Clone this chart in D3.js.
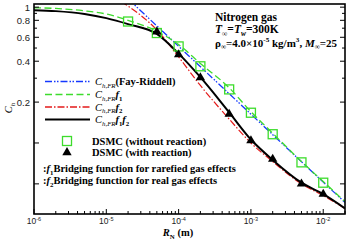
<!DOCTYPE html>
<html>
<head>
<meta charset="utf-8">
<script src="https://cdn.jsdelivr.net/npm/d3@7"></script>
<style>
  html, body { margin: 0; padding: 0; background: #fff; }
  svg { display: block; }
</style>
</head>
<body>
<div id="chart"></div>
<script>
// --- data ---
var rN = [1e-6, 2e-6, 5e-6, 1e-5, 2e-5, 5e-5, 1e-4, 2e-4, 5e-4, 1e-3, 2e-3, 5e-3, 1e-2, 2e-2];
var chF1F2 = [0.95, 0.935, 0.89, 0.83, 0.75, 0.635, 0.455, 0.305, 0.168, 0.106, 0.075, 0.051, 0.042, 0.033];
var chF1 = [0.99, 0.978, 0.94, 0.89, 0.80, 0.665, 0.53, 0.385, 0.255, 0.17, 0.118, 0.073, 0.052, 0.037];

var rFR = [2e-5, 1e-4, 1e-3, 1e-2, 2e-2];
var chFR = [1.15, 0.515, 0.163, 0.0515, 0.0365];

var rF2 = [1.6e-5, 3e-5, 5e-5, 1e-4, 2e-4, 5e-4, 1e-3, 2e-3, 5e-3, 1e-2, 2e-2];
var chF2 = [1.1, 0.87, 0.68, 0.43, 0.265, 0.15, 0.10, 0.073, 0.050, 0.041, 0.033];

var rNoReact = [2e-5, 5e-5, 1e-4, 2e-4, 5e-4, 1e-3, 2e-3, 5e-3, 1e-2];
var dsmcNoReact = [0.784, 0.645, 0.514, 0.367, 0.248, 0.167, 0.116, 0.072, 0.051];
var rReact = [5e-5, 1e-4, 2e-4, 5e-4, 1e-3, 2e-3, 5e-3, 1e-2];
var dsmcReact = [0.659, 0.447, 0.303, 0.163, 0.104, 0.076, 0.050, 0.042];

var xMajor = [1e-6, 1e-5, 1e-4, 1e-3, 1e-2];
var xLabels = ['-6', '-5', '-4', '-3', '-2'];
var yMajor = [1, 0.8, 0.6, 0.4, 0.2, 0.1, 0.05];
var yLabels = ['1', '0.8', '0.6', '0.4', '0.2', '', ''];
var yMinor = [0.9, 0.7, 0.5, 0.3];

var W = 347, H = 240;
var x = d3.scaleLog().domain([1e-6, 2e-2]).range([34, 345]);
var y = d3.scaleLog().domain([0.03, 1.055]).range([214, 4]);

var svg = d3.select('#chart').append('svg').attr('width', W).attr('height', H)
  .attr('font-family', '"Liberation Serif", "Times New Roman", serif');

svg.append('clipPath').attr('id', 'clip').append('rect')
  .attr('x', x.range()[0]).attr('y', y.range()[1])
  .attr('width', x.range()[1] - x.range()[0]).attr('height', y.range()[0] - y.range()[1]);

function rich(parent, px, py, segs, size, opts) {
  opts = opts || {};
  var t = parent.append('text').attr('x', px).attr('y', py).attr('font-size', size)
    .attr('font-weight', opts.weight || 'bold').attr('fill', '#000');
  if (opts.anchor) t.attr('text-anchor', opts.anchor);
  if (opts.transform) t.attr('transform', opts.transform);
  var shift = 0;
  segs.forEach(function (s) {
    var target = s.sub ? size * 0.25 : s.sup ? -size * 0.4 : 0;
    var ts = t.append('tspan').text(s.t).attr('dy', target - shift);
    shift = target;
    if (s.sub || s.sup) ts.attr('font-size', size * 0.65);
    if (s.i) ts.attr('font-style', 'italic');
    if (s.n) ts.attr('font-weight', 'normal');
    if (s.sans) ts.attr('font-family', '"Liberation Sans", Arial, sans-serif');
  });
  return t;
}

var plot = svg.append('g').attr('clip-path', 'url(#clip)');

var line = d3.line()
  .x(function (d) { return x(d[0]); })
  .y(function (d) { return y(d[1]); })
  .curve(d3.curveMonotoneX);

var series = [
  { r: rFR, v: chFR, color: '#1438ff', dash: '7,2,1.5,1.5,1.5,2', width: 1.3 },
  { r: rN, v: chF1, color: '#3ddc2c', dash: '7,3.5', width: 1.3 },
  { r: rF2, v: chF2, color: '#e41a1a', dash: '7,2,1.5,2', width: 1.2 },
  { r: rN, v: chF1F2, color: '#000', dash: null, width: 2 }
];

series.forEach(function (s) {
  plot.append('path').datum(d3.zip(s.r, s.v))
    .attr('fill', 'none').attr('stroke', s.color).attr('stroke-width', s.width)
    .attr('stroke-dasharray', s.dash).attr('d', line);
});

// DSMC markers
plot.selectAll('rect.sq').data(d3.zip(rNoReact, dsmcNoReact)).enter().append('rect')
  .attr('class', 'sq')
  .attr('x', function (d) { return x(d[0]) - 4.5; })
  .attr('y', function (d) { return y(d[1]) - 4.5; })
  .attr('width', 9).attr('height', 9)
  .attr('fill', 'none').attr('stroke', '#3ddc2c').attr('stroke-width', 1.3);

var tri = d3.symbol().type(d3.symbolTriangle).size(38);
plot.selectAll('path.tri').data(d3.zip(rReact, dsmcReact)).enter().append('path')
  .attr('class', 'tri')
  .attr('transform', function (d) { return 'translate(' + x(d[0]) + ',' + y(d[1]) + ')'; })
  .attr('d', tri).attr('fill', '#000');

// Axes frame and ticks (inward)
var axes = svg.append('g');
var x0 = x.range()[0], x1 = x.range()[1], y0 = y.range()[0], y1 = y.range()[1];
axes.append('rect').attr('x', x0).attr('y', y1).attr('width', x1 - x0).attr('height', y0 - y1)
  .attr('fill', 'none').attr('stroke', '#000').attr('stroke-width', 1.6);

var xMinor = [];
xMajor.forEach(function (m) { for (var k = 2; k <= 9; k++) if (m * k <= 2e-2) xMinor.push(m * k); });

axes.selectAll('line.xt').data(xMajor.concat(xMinor)).enter().append('line')
  .attr('x1', function (d) { return x(d); }).attr('x2', function (d) { return x(d); })
  .attr('y1', y0).attr('y2', function (d) { return y0 - (xMajor.indexOf(d) >= 0 ? 5 : 3); })
  .attr('stroke', '#000').attr('stroke-width', 1);

var yTicks = yMajor.map(function (v) { return { v: v, len: 5 }; })
  .concat(yMinor.map(function (v) { return { v: v, len: 3 }; }));
axes.selectAll('line.yl').data(yTicks).enter().append('line')
  .attr('x1', x0).attr('x2', function (d) { return x0 + d.len; })
  .attr('y1', function (d) { return y(d.v); }).attr('y2', function (d) { return y(d.v); })
  .attr('stroke', '#000').attr('stroke-width', 1);
axes.selectAll('line.yr').data(yTicks).enter().append('line')
  .attr('x1', x1).attr('x2', function (d) { return x1 - d.len; })
  .attr('y1', function (d) { return y(d.v); }).attr('y2', function (d) { return y(d.v); })
  .attr('stroke', '#000').attr('stroke-width', 1);

// tick labels
yMajor.forEach(function (v, i) {
  if (!yLabels[i]) return;
  axes.append('text').attr('x', x0 - 4).attr('y', y(v) + 3.5).attr('text-anchor', 'end')
    .attr('font-family', '"Liberation Sans", Arial, sans-serif').attr('font-size', 9.5)
    .attr('fill', '#222').text(yLabels[i]);
});
xMajor.forEach(function (v, i) {
  rich(axes, x(v), 224, [{ t: '10', n: 1, sans: 1 }, { t: xLabels[i], sup: 1, n: 1, sans: 1 }], 8.5,
    { anchor: 'middle', weight: 'normal' }).attr('fill', '#222');
});

// axis titles
rich(svg, 178, 236, [{ t: 'R', i: 1 }, { t: 'N', sub: 1 }, { t: ' (m)' }], 10.5, { anchor: 'middle' });
rich(svg, 12, 108, [{ t: 'C', i: 1, n: 1 }, { t: 'h', sub: 1, i: 1, n: 1 }], 10.5,
  { anchor: 'middle', transform: 'rotate(-90,12,108)' });

// legend
var leg = svg.append('g');
var legRows = [
  { y: 81.5, s: series[0], segs: [{ t: 'C', i: 1, n: 1 }, { t: 'h,FR', sub: 1, i: 1, n: 1 }, { t: '(Fay-Riddell)' }] },
  { y: 94.5, s: series[1], segs: [{ t: 'C', i: 1, n: 1 }, { t: 'h,FR', sub: 1, i: 1, n: 1 }, { t: 'f', i: 1 }, { t: '1', sub: 1 }] },
  { y: 107, s: series[2], segs: [{ t: 'C', i: 1, n: 1 }, { t: 'h,FR', sub: 1, i: 1, n: 1 }, { t: 'f', i: 1 }, { t: '2', sub: 1 }] },
  { y: 119.5, s: series[3], segs: [{ t: 'C', i: 1, n: 1 }, { t: 'h,FR', sub: 1, i: 1, n: 1 }, { t: 'f', i: 1 }, { t: '1', sub: 1 }, { t: 'f', i: 1 }, { t: '2', sub: 1 }] }
];
legRows.forEach(function (r) {
  leg.append('line').attr('x1', 45).attr('x2', 90).attr('y1', r.y).attr('y2', r.y)
    .attr('stroke', r.s.color).attr('stroke-width', Math.max(r.s.width, 1.5))
    .attr('stroke-dasharray', r.s.dash);
  rich(leg, 95, r.y + 3.5, r.segs, 10.5);
});
leg.append('rect').attr('x', 62.5).attr('y', 136.5).attr('width', 9).attr('height', 9)
  .attr('fill', 'none').attr('stroke', '#3ddc2c').attr('stroke-width', 1.3);
leg.append('path').attr('transform', 'translate(67,152.5)').attr('d', tri).attr('fill', '#000');
rich(leg, 92, 144.5, [{ t: 'DSMC (without reaction)' }], 10.5);
rich(leg, 92, 156, [{ t: 'DSMC (with reaction)' }], 10.5);

rich(leg, 43, 172, [{ t: ':' }, { t: 'f', i: 1 }, { t: '1', sub: 1 }, { t: 'Bridging function for rarefied gas effects' }], 10.5);
rich(leg, 43, 184, [{ t: ':' }, { t: 'f', i: 1 }, { t: '2', sub: 1 }, { t: 'Bridging function for real gas effects' }], 10.5);

// condition notes
rich(svg, 215, 20.5, [{ t: 'Nitrogen gas' }], 11.5);
rich(svg, 215, 33, [{ t: 'T', i: 1 }, { t: '∞', sub: 1 }, { t: '=' }, { t: 'T', i: 1 }, { t: 'w', sub: 1, i: 1 }, { t: '=300K' }], 11.5);
rich(svg, 215, 46.5, [{ t: 'ρ' }, { t: '∞', sub: 1 }, { t: '=4.0×10' }, { t: '-5', sup: 1 }, { t: ' kg/m' }, { t: '3', sup: 1 }, { t: ', ' }, { t: 'M', i: 1 }, { t: '∞', sub: 1 }, { t: '=25' }], 11);
</script>
</body>
</html>
